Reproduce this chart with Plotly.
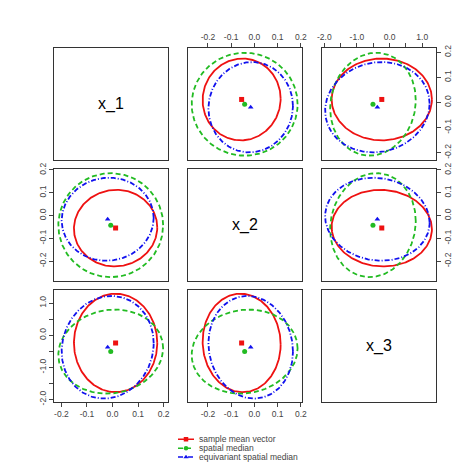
import numpy as np
import plotly.graph_objects as go

# variables and methods
var_names = ["x_1", "x_2", "x_3"]
method_names = ["sample mean vector", "spatial median", "equivariant spatial median"]

# location estimates (x_1, x_2, x_3)
mean_center = [0.012, -0.055, -0.24]
smed_center = [-0.007, -0.042, -0.51]
esmed_center = [-0.019, -0.016, -0.375]

# half extents of the contour per variable
mean_radius = [0.163, 0.168, 1.535]
smed_radius = [0.205, 0.228, 1.31]
esmed_radius = [0.18, 0.182, 1.6]

# correlations for pairs (1,2), (1,3), (2,3)
mean_corr = [0.02, 0.0, -0.03]
smed_corr = [0.0, 0.08, 0.08]
esmed_corr = [0.03, 0.08, -0.08]

# axis ranges and ticks
var_range = [[-0.229, 0.217], [-0.286, 0.205], [-2.07, 1.42]]
small_ticks = [-0.2, -0.1, 0.0, 0.1, 0.2]
small_labels = ["-0.2", "-0.1", "0.0", "0.1", "0.2"]
big_ticks = [-2.0, -1.5, -1.0, -0.5, 0.0, 0.5, 1.0]
big_labels = ["-2.0", "", "-1.0", "", "0.0", "", "1.0"]

colors = ["#ee1111", "#22bb22", "#1111ee"]
dashes = ["solid", "5px,3px", "5px,2px,1px,2px"]
symbols = ["square", "circle", "triangle-up"]

centers = [mean_center, smed_center, esmed_center]
radii = [mean_radius, smed_radius, esmed_radius]
corrs = [mean_corr, smed_corr, esmed_corr]
pair_idx = {(0, 1): 0, (0, 2): 1, (1, 2): 2}

# panel geometry in pixels (474x474 page)
W, H = 474, 474
ml, mr, mt, mb = 46, 46, 40, 10
pw = W - ml - mr
ph = H - mt - mb
col_px = [(46, 160), (180, 294), (314, 428)]
row_px = [(40, 153), (162, 275), (284, 397)]

def xdom(p0, p1):
    return [(p0 - ml) / pw, (p1 - ml) / pw]

def ydom(p0, p1):
    return [(H - mb - p1) / ph, (H - mb - p0) / ph]

fig = go.Figure()
t = np.linspace(0, 2 * np.pi, 241)

def ticks_for(v):
    if v == 2:
        return big_ticks, big_labels
    return small_ticks, small_labels

for r in range(3):
    for c in range(3):
        n = r * 3 + c + 1
        xa = "x" if n == 1 else "x%d" % n
        ya = "y" if n == 1 else "y%d" % n

        xax = dict(domain=xdom(*col_px[c]), range=var_range[c], anchor=ya, showgrid=False,
                   zeroline=False, showline=True, mirror=True, linecolor="#333333",
                   linewidth=1, showticklabels=False, ticks="")
        yax = dict(domain=ydom(*row_px[r]), range=var_range[r], anchor=xa, showgrid=False,
                   zeroline=False, showline=True, mirror=True, linecolor="#333333",
                   linewidth=1, showticklabels=False, ticks="")
        tick_style = dict(ticks="outside", ticklen=4, tickcolor="#444444",
                          showticklabels=True,
                          tickfont=dict(size=8.5, color="#444444",
                                        family="Liberation Sans, Arial"))
        if r == 0 and c > 0:
            tv, tt = ticks_for(c)
            xax.update(tick_style, side="top", tickvals=tv, ticktext=tt)
        if r == 2 and c < 2:
            tv, tt = ticks_for(c)
            xax.update(tick_style, side="bottom", tickvals=tv, ticktext=tt)
        if c == 0 and r > 0:
            tv, tt = ticks_for(r)
            yax.update(tick_style, side="left", tickvals=tv, ticktext=tt, tickangle=-90)
        if c == 2 and r < 2:
            tv, tt = ticks_for(r)
            yax.update(tick_style, side="right", tickvals=tv, ticktext=tt, tickangle=-90)

        fig.layout["xaxis" if n == 1 else "xaxis%d" % n] = xax
        fig.layout["yaxis" if n == 1 else "yaxis%d" % n] = yax

        if r == c:
            # empty trace so the diagonal frame is drawn
            fig.add_trace(go.Scatter(x=[None], y=[None], xaxis=xa, yaxis=ya,
                                     showlegend=False, hoverinfo="skip"))
            fig.add_annotation(text=var_names[r], xref=xa + " domain", yref=ya + " domain",
                               x=0.5, y=0.5, showarrow=False,
                               font=dict(size=16, color="black",
                                         family="Liberation Sans, Arial"))
            continue

        rho_i = pair_idx[(min(r, c), max(r, c))]
        for k in range(3):
            a = radii[k][c]
            b = radii[k][r]
            rho = corrs[k][rho_i]
            ex = centers[k][c] + a * np.cos(t)
            ey = centers[k][r] + b * (rho * np.cos(t) + np.sqrt(1 - rho ** 2) * np.sin(t))
            fig.add_trace(go.Scatter(x=ex, y=ey, mode="lines", xaxis=xa, yaxis=ya,
                                     line=dict(color=colors[k], width=1.8, dash=dashes[k]),
                                     showlegend=False, hoverinfo="skip"))
        for k in range(3):
            fig.add_trace(go.Scatter(x=[centers[k][c]], y=[centers[k][r]], mode="markers",
                                     xaxis=xa, yaxis=ya,
                                     marker=dict(color=colors[k], size=5, symbol=symbols[k]),
                                     showlegend=False))

# legend key drawn on its own hidden axis (rows 0..2)
fig.layout["xaxis10"] = dict(domain=xdom(170, 186), range=[0, 1], visible=False,
                             anchor="y10", fixedrange=True)
fig.layout["yaxis10"] = dict(domain=ydom(430.5, 457.5), range=[2.5, -0.5], visible=False,
                             anchor="x10", fixedrange=True)
for k in range(3):
    fig.add_trace(go.Scatter(x=[0, 1], y=[k, k], mode="lines", xaxis="x10", yaxis="y10",
                             line=dict(color=colors[k], width=1.5, dash=dashes[k]),
                             showlegend=False, hoverinfo="skip"))
    fig.add_trace(go.Scatter(x=[0.5], y=[k], mode="markers", xaxis="x10", yaxis="y10",
                             marker=dict(color=colors[k], size=4.5, symbol=symbols[k]),
                             showlegend=False, hoverinfo="skip"))
    fig.add_annotation(text=method_names[k], xref="x10", yref="y10", x=1, y=k,
                       xanchor="left", xshift=3, showarrow=False,
                       font=dict(size=8.5, color="#444444", family="Liberation Sans, Arial"))

fig.update_layout(
    width=W, height=H,
    margin=dict(l=ml, r=mr, t=mt, b=mb),
    paper_bgcolor="white", plot_bgcolor="white",
    showlegend=False,
)

fig.write_html("out.html")
